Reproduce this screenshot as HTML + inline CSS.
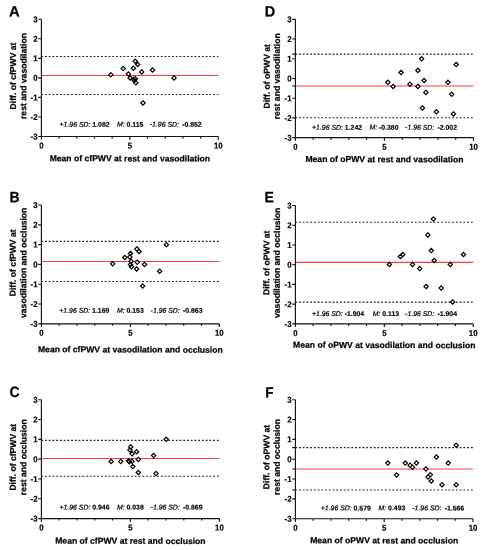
<!DOCTYPE html>
<html><head><meta charset="utf-8"><title>Bland-Altman plots</title>
<style>
html,body{margin:0;padding:0;background:#fff;}
body{width:485px;height:550px;overflow:hidden;}
svg{display:block;}
text{font-family:"Liberation Sans",sans-serif;fill:#000;}
.lab{font-size:15px;font-weight:bold;stroke:#000;stroke-width:0.25px;}
.tk{font-size:8.5px;font-weight:bold;stroke:#000;stroke-width:0.2px;}
.tt{font-size:8.6px;font-weight:bold;stroke:#000;stroke-width:0.22px;}
.st{font-size:6.9px;}
.si{font-style:italic;fill:#000;stroke:#000;stroke-width:0.22px;}
.sb{font-weight:bold;stroke:#000;stroke-width:0.15px;}
.ax{fill:none;stroke:#111;stroke-width:1.15;}
.dash{fill:none;stroke:#222;stroke-width:1.1;stroke-dasharray:1.9 1.838;}
.red{fill:none;stroke:#ff3b3b;stroke-width:1.2;}
.pt{fill:#fff;stroke:#000;stroke-width:1.2;}
</style></head>
<body><svg width="485" height="550" viewBox="0 0 485 550">
<text class="lab" transform="translate(9 16.6) rotate(0.15) scale(0.99 1)">A</text>
<path class="ax" d="M41.4 19.2V136.5H218.3M38.2 19.2H41.4M38.2 38.75H41.4M38.2 58.3H41.4M38.2 77.85H41.4M38.2 97.4H41.4M38.2 116.95H41.4M38.2 136.5H41.4M41.4 136.5V139.7M59.09 136.5V138.5M76.78 136.5V138.5M94.47 136.5V138.5M112.16 136.5V138.5M129.85 136.5V139.7M147.54 136.5V138.5M165.23 136.5V138.5M182.92 136.5V138.5M200.61 136.5V138.5M218.3 136.5V139.7"/>
<text class="tk" text-anchor="end" transform="translate(37.5 22.2) rotate(0.15) scale(0.92 1)">3</text>
<text class="tk" text-anchor="end" transform="translate(37.5 41.75) rotate(0.15) scale(0.92 1)">2</text>
<text class="tk" text-anchor="end" transform="translate(37.5 61.3) rotate(0.15) scale(0.92 1)">1</text>
<text class="tk" text-anchor="end" transform="translate(37.5 80.85) rotate(0.15) scale(0.92 1)">0</text>
<text class="tk" text-anchor="end" transform="translate(37.5 100.4) rotate(0.15) scale(0.92 1)">-1</text>
<text class="tk" text-anchor="end" transform="translate(37.5 119.95) rotate(0.15) scale(0.92 1)">-2</text>
<text class="tk" text-anchor="end" transform="translate(37.5 139.5) rotate(0.15) scale(0.92 1)">-3</text>
<text class="tk" text-anchor="middle" transform="translate(41.4 148.5) rotate(0.15) scale(0.92 1)">0</text>
<text class="tk" text-anchor="middle" transform="translate(129.85 148.5) rotate(0.15) scale(0.92 1)">5</text>
<text class="tk" text-anchor="middle" transform="translate(218.3 148.5) rotate(0.15) scale(0.92 1)">10</text>
<path class="dash" d="M41.18 56.5H218.3M41.18 94.5H218.3"/>
<path class="red" d="M41.9 75.5H218.3"/>
<path class="pt" d="M110.8 72.55L112.95 74.7L110.8 76.85L108.65 74.7ZM123.2 66.45L125.35 68.6L123.2 70.75L121.05 68.6ZM135.3 59.15L137.45 61.3L135.3 63.45L133.15 61.3ZM137.7 62.35L139.85 64.5L137.7 66.65L135.55 64.5ZM133.4 66.05L135.55 68.2L133.4 70.35L131.25 68.2ZM141.7 69.75L143.85 71.9L141.7 74.05L139.55 71.9ZM152.5 67.85L154.65 70L152.5 72.15L150.35 70ZM128.4 71.95L130.55 74.1L128.4 76.25L126.25 74.1ZM130.2 75.85L132.35 78L130.2 80.15L128.05 78ZM133.4 77.15L135.55 79.3L133.4 81.45L131.25 79.3ZM135.3 76.65L137.45 78.8L135.3 80.95L133.15 78.8ZM134.3 78.45L136.45 80.6L134.3 82.75L132.15 80.6ZM135.8 80.55L137.95 82.7L135.8 84.85L133.65 82.7ZM174 75.75L176.15 77.9L174 80.05L171.85 77.9ZM143 100.75L145.15 102.9L143 105.05L140.85 102.9Z"/>
<text class="st" transform="translate(59.6 126.6) rotate(0.15)"><tspan class="si">+1.96 SD: </tspan><tspan class="sb">1.082</tspan></text>
<text class="st" transform="translate(116.9 126.6) rotate(0.15)"><tspan class="si">M: </tspan><tspan class="sb">0.115</tspan></text>
<text class="st" transform="translate(149.8 126.6) rotate(0.15)"><tspan class="si">-1.96 SD: </tspan><tspan class="sb" dx="1.3">-0.852</tspan></text>
<text class="tt" text-anchor="middle" transform="translate(129.85 161.4) rotate(0.15)">Mean of cfPWV at rest and vasodilation</text>
<text class="tt" text-anchor="middle" transform="translate(16 76) rotate(-89.85)">Diff. of cfPWV at</text>
<text class="tt" text-anchor="middle" transform="translate(26.4 76) rotate(-89.85)">rest and vasodilation</text>
<text class="lab" transform="translate(9.4 202.2) rotate(0.15) scale(0.93 1)">B</text>
<path class="ax" d="M41.4 205V323.8H219.3M38.2 205H41.4M38.2 224.8H41.4M38.2 244.6H41.4M38.2 264.4H41.4M38.2 284.2H41.4M38.2 304H41.4M38.2 323.8H41.4M41.4 323.8V327M59.19 323.8V325.8M76.98 323.8V325.8M94.77 323.8V325.8M112.56 323.8V325.8M130.35 323.8V327M148.14 323.8V325.8M165.93 323.8V325.8M183.72 323.8V325.8M201.51 323.8V325.8M219.3 323.8V327"/>
<text class="tk" text-anchor="end" transform="translate(37.5 208) rotate(0.15) scale(0.92 1)">3</text>
<text class="tk" text-anchor="end" transform="translate(37.5 227.8) rotate(0.15) scale(0.92 1)">2</text>
<text class="tk" text-anchor="end" transform="translate(37.5 247.6) rotate(0.15) scale(0.92 1)">1</text>
<text class="tk" text-anchor="end" transform="translate(37.5 267.4) rotate(0.15) scale(0.92 1)">0</text>
<text class="tk" text-anchor="end" transform="translate(37.5 287.2) rotate(0.15) scale(0.92 1)">-1</text>
<text class="tk" text-anchor="end" transform="translate(37.5 307) rotate(0.15) scale(0.92 1)">-2</text>
<text class="tk" text-anchor="end" transform="translate(37.5 326.8) rotate(0.15) scale(0.92 1)">-3</text>
<text class="tk" text-anchor="middle" transform="translate(41.4 335.8) rotate(0.15) scale(0.92 1)">0</text>
<text class="tk" text-anchor="middle" transform="translate(130.35 335.8) rotate(0.15) scale(0.92 1)">5</text>
<text class="tk" text-anchor="middle" transform="translate(219.3 335.8) rotate(0.15) scale(0.92 1)">10</text>
<path class="dash" d="M41.18 241.4H219.3M41.18 281.5H219.3"/>
<path class="red" d="M41.9 261.5H219.3"/>
<path class="pt" d="M112.6 261.65L114.75 263.8L112.6 265.95L110.45 263.8ZM124.8 255.35L126.95 257.5L124.8 259.65L122.65 257.5ZM130.5 251.25L132.65 253.4L130.5 255.55L128.35 253.4ZM129.9 254.75L132.05 256.9L129.9 259.05L127.75 256.9ZM136.9 246.75L139.05 248.9L136.9 251.05L134.75 248.9ZM139.1 249.35L141.25 251.5L139.1 253.65L136.95 251.5ZM131.1 259.15L133.25 261.3L131.1 263.45L128.95 261.3ZM130.5 262.35L132.65 264.5L130.5 266.65L128.35 264.5ZM131.5 264.65L133.65 266.8L131.5 268.95L129.35 266.8ZM137.2 260.15L139.35 262.3L137.2 264.45L135.05 262.3ZM136.6 266.85L138.75 269L136.6 271.15L134.45 269ZM144.5 262.35L146.65 264.5L144.5 266.65L142.35 264.5ZM159.6 269.05L161.75 271.2L159.6 273.35L157.45 271.2ZM166.4 242.55L168.55 244.7L166.4 246.85L164.25 244.7ZM142.7 283.85L144.85 286L142.7 288.15L140.55 286Z"/>
<text class="st" transform="translate(59.3 312.7) rotate(0.15)"><tspan class="si">+1.96 SD: </tspan><tspan class="sb">1.169</tspan></text>
<text class="st" transform="translate(116.9 312.7) rotate(0.15)"><tspan class="si">M: </tspan><tspan class="sb">0.153</tspan></text>
<text class="st" transform="translate(150.6 312.7) rotate(0.15)"><tspan class="si">-1.96 SD: </tspan><tspan class="sb" dx="1.3">-0.863</tspan></text>
<text class="tt" text-anchor="middle" transform="translate(130.35 352.5) rotate(0.15)">Mean of cfPWV at vasodilation and occlusion</text>
<text class="tt" text-anchor="middle" transform="translate(15.7 262.8) rotate(-89.85)">Diff. of cfPWV at</text>
<text class="tt" text-anchor="middle" transform="translate(26.4 262.8) rotate(-89.85)">vasodilation and occlusion</text>
<text class="lab" transform="translate(9.6 397.1) rotate(0.15) scale(0.93 1)">C</text>
<path class="ax" d="M41.4 399.7V518.6H219.4M38.2 399.7H41.4M38.2 419.52H41.4M38.2 439.33H41.4M38.2 459.15H41.4M38.2 478.97H41.4M38.2 498.78H41.4M38.2 518.6H41.4M41.4 518.6V521.8M59.2 518.6V520.6M77 518.6V520.6M94.8 518.6V520.6M112.6 518.6V520.6M130.4 518.6V521.8M148.2 518.6V520.6M166 518.6V520.6M183.8 518.6V520.6M201.6 518.6V520.6M219.4 518.6V521.8"/>
<text class="tk" text-anchor="end" transform="translate(37.5 402.7) rotate(0.15) scale(0.92 1)">3</text>
<text class="tk" text-anchor="end" transform="translate(37.5 422.52) rotate(0.15) scale(0.92 1)">2</text>
<text class="tk" text-anchor="end" transform="translate(37.5 442.33) rotate(0.15) scale(0.92 1)">1</text>
<text class="tk" text-anchor="end" transform="translate(37.5 462.15) rotate(0.15) scale(0.92 1)">0</text>
<text class="tk" text-anchor="end" transform="translate(37.5 481.97) rotate(0.15) scale(0.92 1)">-1</text>
<text class="tk" text-anchor="end" transform="translate(37.5 501.78) rotate(0.15) scale(0.92 1)">-2</text>
<text class="tk" text-anchor="end" transform="translate(37.5 521.6) rotate(0.15) scale(0.92 1)">-3</text>
<text class="tk" text-anchor="middle" transform="translate(41.4 530.6) rotate(0.15) scale(0.92 1)">0</text>
<text class="tk" text-anchor="middle" transform="translate(130.4 530.6) rotate(0.15) scale(0.92 1)">5</text>
<text class="tk" text-anchor="middle" transform="translate(219.4 530.6) rotate(0.15) scale(0.92 1)">10</text>
<path class="dash" d="M41.18 440.4H219.4M41.18 476.2H219.4"/>
<path class="red" d="M41.9 458.5H219.4"/>
<path class="pt" d="M111.1 459.35L113.25 461.5L111.1 463.65L108.95 461.5ZM120.7 459.25L122.85 461.4L120.7 463.55L118.55 461.4ZM130.7 444.75L132.85 446.9L130.7 449.05L128.55 446.9ZM130 447.85L132.15 450L130 452.15L127.85 450ZM136.6 449.55L138.75 451.7L136.6 453.85L134.45 451.7ZM132.1 451.65L134.25 453.8L132.1 455.95L129.95 453.8ZM128.6 458.85L130.75 461L128.6 463.15L126.45 461ZM129.3 459.55L131.45 461.7L129.3 463.85L127.15 461.7ZM132 459.15L134.15 461.3L132 463.45L129.85 461.3ZM138.3 457.25L140.45 459.4L138.3 461.55L136.15 459.4ZM132.8 464.45L134.95 466.6L132.8 468.75L130.65 466.6ZM138.3 470.35L140.45 472.5L138.3 474.65L136.15 472.5ZM153.6 453.45L155.75 455.6L153.6 457.75L151.45 455.6ZM156 471.45L158.15 473.6L156 475.75L153.85 473.6ZM166.2 437.15L168.35 439.3L166.2 441.45L164.05 439.3Z"/>
<text class="st" transform="translate(59.5 509.4) rotate(0.15)"><tspan class="si">+1.96 SD: </tspan><tspan class="sb">0.946</tspan></text>
<text class="st" transform="translate(116.9 509.4) rotate(0.15)"><tspan class="si">M: </tspan><tspan class="sb">0.038</tspan></text>
<text class="st" transform="translate(150.6 509.4) rotate(0.15)"><tspan class="si">-1.96 SD: </tspan><tspan class="sb" dx="1.3">-0.869</tspan></text>
<text class="tt" text-anchor="middle" transform="translate(130.4 543.8) rotate(0.15)">Mean of cfPWV at rest and occlusion</text>
<text class="tt" text-anchor="middle" transform="translate(15.9 457.2) rotate(-89.85)">Diff. of cfPWV at</text>
<text class="tt" text-anchor="middle" transform="translate(26.4 457.2) rotate(-89.85)">rest and occlusion</text>
<text class="lab" transform="translate(264.7 16.6) rotate(0.15) scale(0.96 1)">D</text>
<path class="ax" d="M295.4 19.3V137.65H473.5M292.2 19.3H295.4M292.2 39.03H295.4M292.2 58.75H295.4M292.2 78.48H295.4M292.2 98.2H295.4M292.2 117.92H295.4M292.2 137.65H295.4M292.2 54.1H295.4M292.2 86H295.4M292.2 117.8H295.4M295.4 137.65V140.85M313.21 137.65V139.65M331.02 137.65V139.65M348.83 137.65V139.65M366.64 137.65V139.65M384.45 137.65V140.85M402.26 137.65V139.65M420.07 137.65V139.65M437.88 137.65V139.65M455.69 137.65V139.65M473.5 137.65V140.85"/>
<text class="tk" text-anchor="end" transform="translate(291.5 22.3) rotate(0.15) scale(0.92 1)">3</text>
<text class="tk" text-anchor="end" transform="translate(291.5 42.03) rotate(0.15) scale(0.92 1)">2</text>
<text class="tk" text-anchor="end" transform="translate(291.5 61.75) rotate(0.15) scale(0.92 1)">1</text>
<text class="tk" text-anchor="end" transform="translate(291.5 81.48) rotate(0.15) scale(0.92 1)">0</text>
<text class="tk" text-anchor="end" transform="translate(291.5 101.2) rotate(0.15) scale(0.92 1)">-1</text>
<text class="tk" text-anchor="end" transform="translate(291.5 120.92) rotate(0.15) scale(0.92 1)">-2</text>
<text class="tk" text-anchor="end" transform="translate(291.5 140.65) rotate(0.15) scale(0.92 1)">-3</text>
<text class="tk" text-anchor="middle" transform="translate(295.4 149.65) rotate(0.15) scale(0.92 1)">0</text>
<text class="tk" text-anchor="middle" transform="translate(384.45 149.65) rotate(0.15) scale(0.92 1)">5</text>
<text class="tk" text-anchor="middle" transform="translate(473.5 149.65) rotate(0.15) scale(0.92 1)">10</text>
<path class="dash" d="M295.18 54.1H473.5M295.18 117.8H473.5"/>
<path class="red" d="M295.9 86H473.5"/>
<path class="pt" d="M387.8 80.15L389.95 82.3L387.8 84.45L385.65 82.3ZM393.1 84.25L395.25 86.4L393.1 88.55L390.95 86.4ZM401 70.25L403.15 72.4L401 74.55L398.85 72.4ZM410 82.05L412.15 84.2L410 86.35L407.85 84.2ZM417.9 68.25L420.05 70.4L417.9 72.55L415.75 70.4ZM421.6 56.65L423.75 58.8L421.6 60.95L419.45 58.8ZM417.9 84.25L420.05 86.4L417.9 88.55L415.75 86.4ZM424.1 78.35L426.25 80.5L424.1 82.65L421.95 80.5ZM425.9 90.25L428.05 92.4L425.9 94.55L423.75 92.4ZM422.4 105.75L424.55 107.9L422.4 110.05L420.25 107.9ZM436.4 109.65L438.55 111.8L436.4 113.95L434.25 111.8ZM448 80.15L450.15 82.3L448 84.45L445.85 82.3ZM456.2 62.45L458.35 64.6L456.2 66.75L454.05 64.6ZM451.7 92.15L453.85 94.3L451.7 96.45L449.55 94.3ZM453.4 111.75L455.55 113.9L453.4 116.05L451.25 113.9Z"/>
<text class="st" transform="translate(312.1 129.6) rotate(0.15)"><tspan class="si">+1.96 SD: </tspan><tspan class="sb">1.242</tspan></text>
<text class="st" transform="translate(369.4 129.6) rotate(0.15)"><tspan class="si">M: </tspan><tspan class="sb">-0.380</tspan></text>
<text class="st" transform="translate(405.1 129.6) rotate(0.15)"><tspan class="si">-1.96 SD: </tspan><tspan class="sb" dx="1.3">-2.002</tspan></text>
<text class="tt" text-anchor="middle" transform="translate(384.45 162.2) rotate(0.15)">Mean of oPWV at rest and vasodilation</text>
<text class="tt" text-anchor="middle" transform="translate(269.8 76.3) rotate(-89.85)">Diff. of oPWV at</text>
<text class="tt" text-anchor="middle" transform="translate(279.8 76.3) rotate(-89.85)">rest and vasodilation</text>
<text class="lab" transform="translate(264.5 202.2) rotate(0.15) scale(0.93 1)">E</text>
<path class="ax" d="M295.4 205.5V323.9H473.2M292.2 205.5H295.4M292.2 225.23H295.4M292.2 244.97H295.4M292.2 264.7H295.4M292.2 284.43H295.4M292.2 304.17H295.4M292.2 323.9H295.4M295.4 323.9V327.1M313.18 323.9V325.9M330.96 323.9V325.9M348.74 323.9V325.9M366.52 323.9V325.9M384.3 323.9V327.1M402.08 323.9V325.9M419.86 323.9V325.9M437.64 323.9V325.9M455.42 323.9V325.9M473.2 323.9V327.1"/>
<text class="tk" text-anchor="end" transform="translate(291.5 208.5) rotate(0.15) scale(0.92 1)">3</text>
<text class="tk" text-anchor="end" transform="translate(291.5 228.23) rotate(0.15) scale(0.92 1)">2</text>
<text class="tk" text-anchor="end" transform="translate(291.5 247.97) rotate(0.15) scale(0.92 1)">1</text>
<text class="tk" text-anchor="end" transform="translate(291.5 267.7) rotate(0.15) scale(0.92 1)">0</text>
<text class="tk" text-anchor="end" transform="translate(291.5 287.43) rotate(0.15) scale(0.92 1)">-1</text>
<text class="tk" text-anchor="end" transform="translate(291.5 307.17) rotate(0.15) scale(0.92 1)">-2</text>
<text class="tk" text-anchor="end" transform="translate(291.5 326.9) rotate(0.15) scale(0.92 1)">-3</text>
<text class="tk" text-anchor="middle" transform="translate(295.4 335.9) rotate(0.15) scale(0.92 1)">0</text>
<text class="tk" text-anchor="middle" transform="translate(384.3 335.9) rotate(0.15) scale(0.92 1)">5</text>
<text class="tk" text-anchor="middle" transform="translate(473.2 335.9) rotate(0.15) scale(0.92 1)">10</text>
<path class="dash" d="M295.18 222.3H473.2M295.18 302.1H473.2"/>
<path class="red" d="M295.9 262.3H473.2"/>
<path class="pt" d="M389.4 262.25L391.55 264.4L389.4 266.55L387.25 264.4ZM400.4 254.25L402.55 256.4L400.4 258.55L398.25 256.4ZM402.8 252.35L404.95 254.5L402.8 256.65L400.65 254.5ZM412.5 262.25L414.65 264.4L412.5 266.55L410.35 264.4ZM419.7 266.45L421.85 268.6L419.7 270.75L417.55 268.6ZM427.8 232.75L429.95 234.9L427.8 237.05L425.65 234.9ZM433.4 216.95L435.55 219.1L433.4 221.25L431.25 219.1ZM431.3 248.45L433.45 250.6L431.3 252.75L429.15 250.6ZM434.2 258.35L436.35 260.5L434.2 262.65L432.05 260.5ZM426.1 284.35L428.25 286.5L426.1 288.65L423.95 286.5ZM441.2 285.95L443.35 288.1L441.2 290.25L439.05 288.1ZM450.3 262.25L452.45 264.4L450.3 266.55L448.15 264.4ZM463.5 252.35L465.65 254.5L463.5 256.65L461.35 254.5ZM452.7 299.85L454.85 302L452.7 304.15L450.55 302Z"/>
<text class="st" transform="translate(311.9 315.9) rotate(0.15)"><tspan class="si">+1.96 SD: </tspan><tspan class="sb">-1.904</tspan></text>
<text class="st" transform="translate(372.7 315.9) rotate(0.15)"><tspan class="si">M: </tspan><tspan class="sb">0.113</tspan></text>
<text class="st" transform="translate(405.1 315.9) rotate(0.15)"><tspan class="si">-1.96 SD: </tspan><tspan class="sb" dx="1.3">-1.904</tspan></text>
<text class="tt" text-anchor="middle" transform="translate(384.3 348) rotate(0.15)">Mean of oPWV at vasodilation and occlusion</text>
<text class="tt" text-anchor="middle" transform="translate(269.4 262.8) rotate(-89.85)">Diff. of oPWV at</text>
<text class="tt" text-anchor="middle" transform="translate(279.8 262.8) rotate(-89.85)">vasodilation and occlusion</text>
<text class="lab" transform="translate(265.3 397.4) rotate(0.15) scale(0.9 1)">F</text>
<path class="ax" d="M295.4 399.7V518.7H473M292.2 399.7H295.4M292.2 419.53H295.4M292.2 439.37H295.4M292.2 459.2H295.4M292.2 479.03H295.4M292.2 498.87H295.4M292.2 518.7H295.4M292.2 447.6H295.4M292.2 469H295.4M292.2 490H295.4M295.4 518.7V521.9M313.16 518.7V520.7M330.92 518.7V520.7M348.68 518.7V520.7M366.44 518.7V520.7M384.2 518.7V521.9M401.96 518.7V520.7M419.72 518.7V520.7M437.48 518.7V520.7M455.24 518.7V520.7M473 518.7V521.9"/>
<text class="tk" text-anchor="end" transform="translate(291.5 402.7) rotate(0.15) scale(0.92 1)">3</text>
<text class="tk" text-anchor="end" transform="translate(291.5 422.53) rotate(0.15) scale(0.92 1)">2</text>
<text class="tk" text-anchor="end" transform="translate(291.5 442.37) rotate(0.15) scale(0.92 1)">1</text>
<text class="tk" text-anchor="end" transform="translate(291.5 462.2) rotate(0.15) scale(0.92 1)">0</text>
<text class="tk" text-anchor="end" transform="translate(291.5 482.03) rotate(0.15) scale(0.92 1)">-1</text>
<text class="tk" text-anchor="end" transform="translate(291.5 501.87) rotate(0.15) scale(0.92 1)">-2</text>
<text class="tk" text-anchor="end" transform="translate(291.5 521.7) rotate(0.15) scale(0.92 1)">-3</text>
<text class="tk" text-anchor="middle" transform="translate(295.4 530.7) rotate(0.15) scale(0.92 1)">0</text>
<text class="tk" text-anchor="middle" transform="translate(384.2 530.7) rotate(0.15) scale(0.92 1)">5</text>
<text class="tk" text-anchor="middle" transform="translate(473 530.7) rotate(0.15) scale(0.92 1)">10</text>
<path class="dash" d="M295.18 447.6H473M295.18 490H473"/>
<path class="red" d="M295.9 469H473"/>
<path class="pt" d="M387.8 460.95L389.95 463.1L387.8 465.25L385.65 463.1ZM396.6 472.95L398.75 475.1L396.6 477.25L394.45 475.1ZM405.3 460.95L407.45 463.1L405.3 465.25L403.15 463.1ZM410.1 463.05L412.25 465.2L410.1 467.35L407.95 465.2ZM412.5 465.05L414.65 467.2L412.5 469.35L410.35 467.2ZM416.4 460.95L418.55 463.1L416.4 465.25L414.25 463.1ZM425.9 466.95L428.05 469.1L425.9 471.25L423.75 469.1ZM436.4 454.95L438.55 457.1L436.4 459.25L434.25 457.1ZM430.3 472.65L432.45 474.8L430.3 476.95L428.15 474.8ZM428 474.95L430.15 477.1L428 479.25L425.85 477.1ZM431.3 478.85L433.45 481L431.3 483.15L429.15 481ZM442 482.55L444.15 484.7L442 486.85L439.85 484.7ZM448.2 460.95L450.35 463.1L448.2 465.25L446.05 463.1ZM456.2 482.55L458.35 484.7L456.2 486.85L454.05 484.7ZM456.2 443.05L458.35 445.2L456.2 447.35L454.05 445.2Z"/>
<text class="st" transform="translate(320.8 510.3) rotate(0.15)"><tspan class="si">+1.96 SD: </tspan><tspan class="sb">0.579</tspan></text>
<text class="st" transform="translate(378.5 510.3) rotate(0.15)"><tspan class="si">M: </tspan><tspan class="sb">0.493</tspan></text>
<text class="st" transform="translate(412.3 510.3) rotate(0.15)"><tspan class="si">-1.96 SD: </tspan><tspan class="sb" dx="1.3">-1.566</tspan></text>
<text class="tt" text-anchor="middle" transform="translate(384.2 543.4) rotate(0.15)">Mean of oPWV at rest and occlusion</text>
<text class="tt" text-anchor="middle" transform="translate(269.4 457) rotate(-89.85)">Diff. of oPWV at</text>
<text class="tt" text-anchor="middle" transform="translate(279.8 457) rotate(-89.85)">rest and occlusion</text>
</svg></body></html>
